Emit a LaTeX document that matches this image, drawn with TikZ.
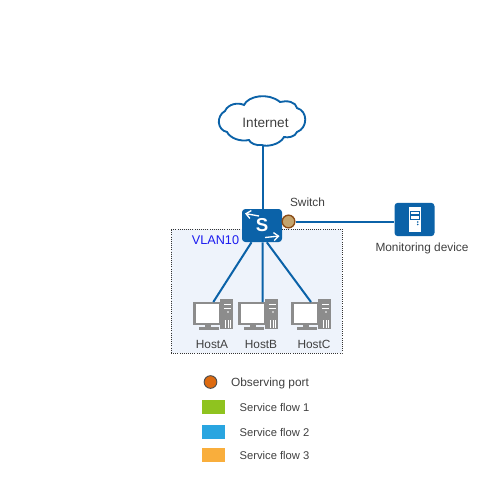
\documentclass[tikz,border=0pt]{standalone}
\usepackage{fontspec}
\setmainfont{Liberation Sans}
\usetikzlibrary{positioning}
\usetikzlibrary{arrows.meta}
\definecolor{mblue}{HTML}{0B62A8}
\definecolor{mgray}{HTML}{8C8C8C}
\definecolor{mtext}{HTML}{404040}
\definecolor{vlanfill}{HTML}{EEF3FB}
\definecolor{vlanblue}{HTML}{1A1AF0}
\definecolor{porttan}{HTML}{C4A46C}
\definecolor{portbrown}{HTML}{8A4B16}
\definecolor{legorange}{HTML}{DD6A10}
\definecolor{flowgreen}{HTML}{8FC31F}
\definecolor{flowblue}{HTML}{29A5E0}
\definecolor{floworange}{HTML}{F9AE3C}
\tikzset{every node/.style={font=\fontsize{8.9pt}{10pt}\selectfont, text=mtext}}
\tikzset{link/.style = {draw=mblue, line width=1.5pt}}
\tikzset{device/.style = {fill=mblue, rounded corners=2.5pt, inner sep=0, minimum width=30pt, minimum height=25pt}}
\tikzset{swatch/.style = {inner sep=0, minimum width=17.25pt, minimum height=10.5pt}}
\tikzset{portdot/.style = {circle, inner sep=0, minimum size=9.5pt, line width=1pt}}
\tikzset{flecha/.style = {draw=white, line width=1pt, -{Straight Barb[length=3.5pt,width=6pt]}}}
\tikzset{bay/.style = {draw=mblue, fill=white, line width=0.6pt, inner sep=0, minimum width=6.2pt, minimum height=2.8pt}}
\tikzset{flowtext/.style = {font=\fontsize{8.4pt}{10pt}\selectfont}}
\newcommand{\hostpc}[2]{
  \fill[mgray] (#1+27,299) rectangle (#1+40,329);
  \fill[white] (#1+31,304) rectangle (#1+38,305);
  \fill[white] (#1+31,308) rectangle (#1+38,309);
  \fill[white] (#1+35,312) circle (0.8);
  \fill[white] (#1+32,320) rectangle (#1+33,328);
  \fill[white] (#1+34.5,320) rectangle (#1+35.5,328);
  \fill[white] (#1+37,320) rectangle (#1+38,328);
  \fill[mgray] (#1+12,325) rectangle (#1+18,328);
  \fill[mgray] (#1+6,327) rectangle (#1+26,330);
  \node[draw=mgray, fill=white, line width=1.9pt, inner sep=0, minimum width=19.5pt, minimum height=15.5pt] (#2) at (#1+14.5,313.5) {};
}

\begin{document}
\begin{tikzpicture}[x=0.75pt, y=-0.75pt]

      \useasboundingbox (0,0) rectangle (500,480);

      \node[draw=black!80, densely dotted, fill=vlanfill, line width=0.6pt, inner sep=0,
            minimum width=128.25pt, minimum height=93pt] (vlanbox) at (256.5,291) {};
      \node[text=vlanblue, font=\fontsize{9.5pt}{11pt}\selectfont] (vlanlabel) at (215.5,240) {VLAN10};

      \node[device, minimum width=30pt, minimum height=24.75pt] (sw) at (262,225.5) {};
      \node[device] (monitor) at (414.5,219.5) {};
      \node[portdot, draw=portbrown, fill=porttan] (port) at (288.5,221.5) {};

      \hostpc{193}{hostA}
      \hostpc{238}{hostB}
      \hostpc{291}{hostC}

      \coordinate (portA) at (213.3,302);
      \coordinate (portB) at (262.7,302);
      \coordinate (portC) at (311,302);
      \coordinate (cloudbase) at (262.7,145);

      \draw[link] (sw.-122) -- (portA);
      \draw[link] (sw.-88) -- (portB);
      \draw[link] (sw.-74) -- (portC);
      \draw[link] (cloudbase) -- (cloudbase |- sw.north);
      \draw[link] (port) -- (monitor.west |- port);

      % cloud
      \draw[draw=mblue, fill=white, line width=1.4pt]
        (227,132) .. controls (217,130) and (216,116) .. (225,111)
        .. controls (228,104) and (238,102) .. (244,105)
        .. controls (248,96) and (268,92) .. (280,102)
        .. controls (287,100) and (296,102) .. (297,108)
        .. controls (308,111) and (308,128) .. (297,132)
        .. controls (295,137) and (288,138) .. (284,137)
        .. controls (280,145) and (266,147) .. (262,145)
        .. controls (256,146) and (250,143) .. (249,140)
        .. controls (240,142) and (230,138) .. (227,132) -- cycle;
      \node[font=\fontsize{10.2pt}{12pt}\selectfont] (internet) at (265.5,122.5) {Internet};

      % switch arrows and letter
      \draw[flecha] (259,216) -- (245,213.5);
      \draw[flecha] (265,237.5) -- (279.5,236);
      \node[text=white, font=\fontsize{14pt}{14pt}\selectfont\bfseries] (swletter) at (262,225.5) {S};
      \node (swlabel) at (307.5,202.5) {Switch};

      % monitoring device
      \node[fill=white, inner sep=0, minimum width=8.6pt, minimum height=19pt] (tower) at (415,219.5) {};
      \node[bay] (bay1) at (415,213) {};
      \node[bay] (bay2) at (415,217.7) {};
      \fill[mblue] (417.7,222) circle (0.9);
      \fill[mblue] (417.7,224.5) circle (0.9);
      \node (monlabel) at (422,248.5) {Monitoring device};

      \node (hostAlabel) at (212,344) {HostA};
      \node (hostBlabel) at (261,344) {HostB};
      \node (hostClabel) at (314,344) {HostC};

      % legend
      \node[portdot, draw=black!70, fill=legorange, line width=0.7pt] (legport) at (210.5,382) {};
      \node[swatch, fill=flowgreen] (flow1) at (213.5,407) {};
      \node[swatch, fill=flowblue] (flow2) at (213.5,432) {};
      \node[swatch, fill=floworange] (flow3) at (213.5,454.5) {};

      \node (legportlabel) at (270,383) {Observing port};
      \node[flowtext] (flow1label) at (274.5,407.5) {Service flow 1};
      \node[flowtext] (flow2label) at (274.5,432.5) {Service flow 2};
      \node[flowtext] (flow3label) at (274.5,455.5) {Service flow 3};

    \end{tikzpicture}
\end{document}
